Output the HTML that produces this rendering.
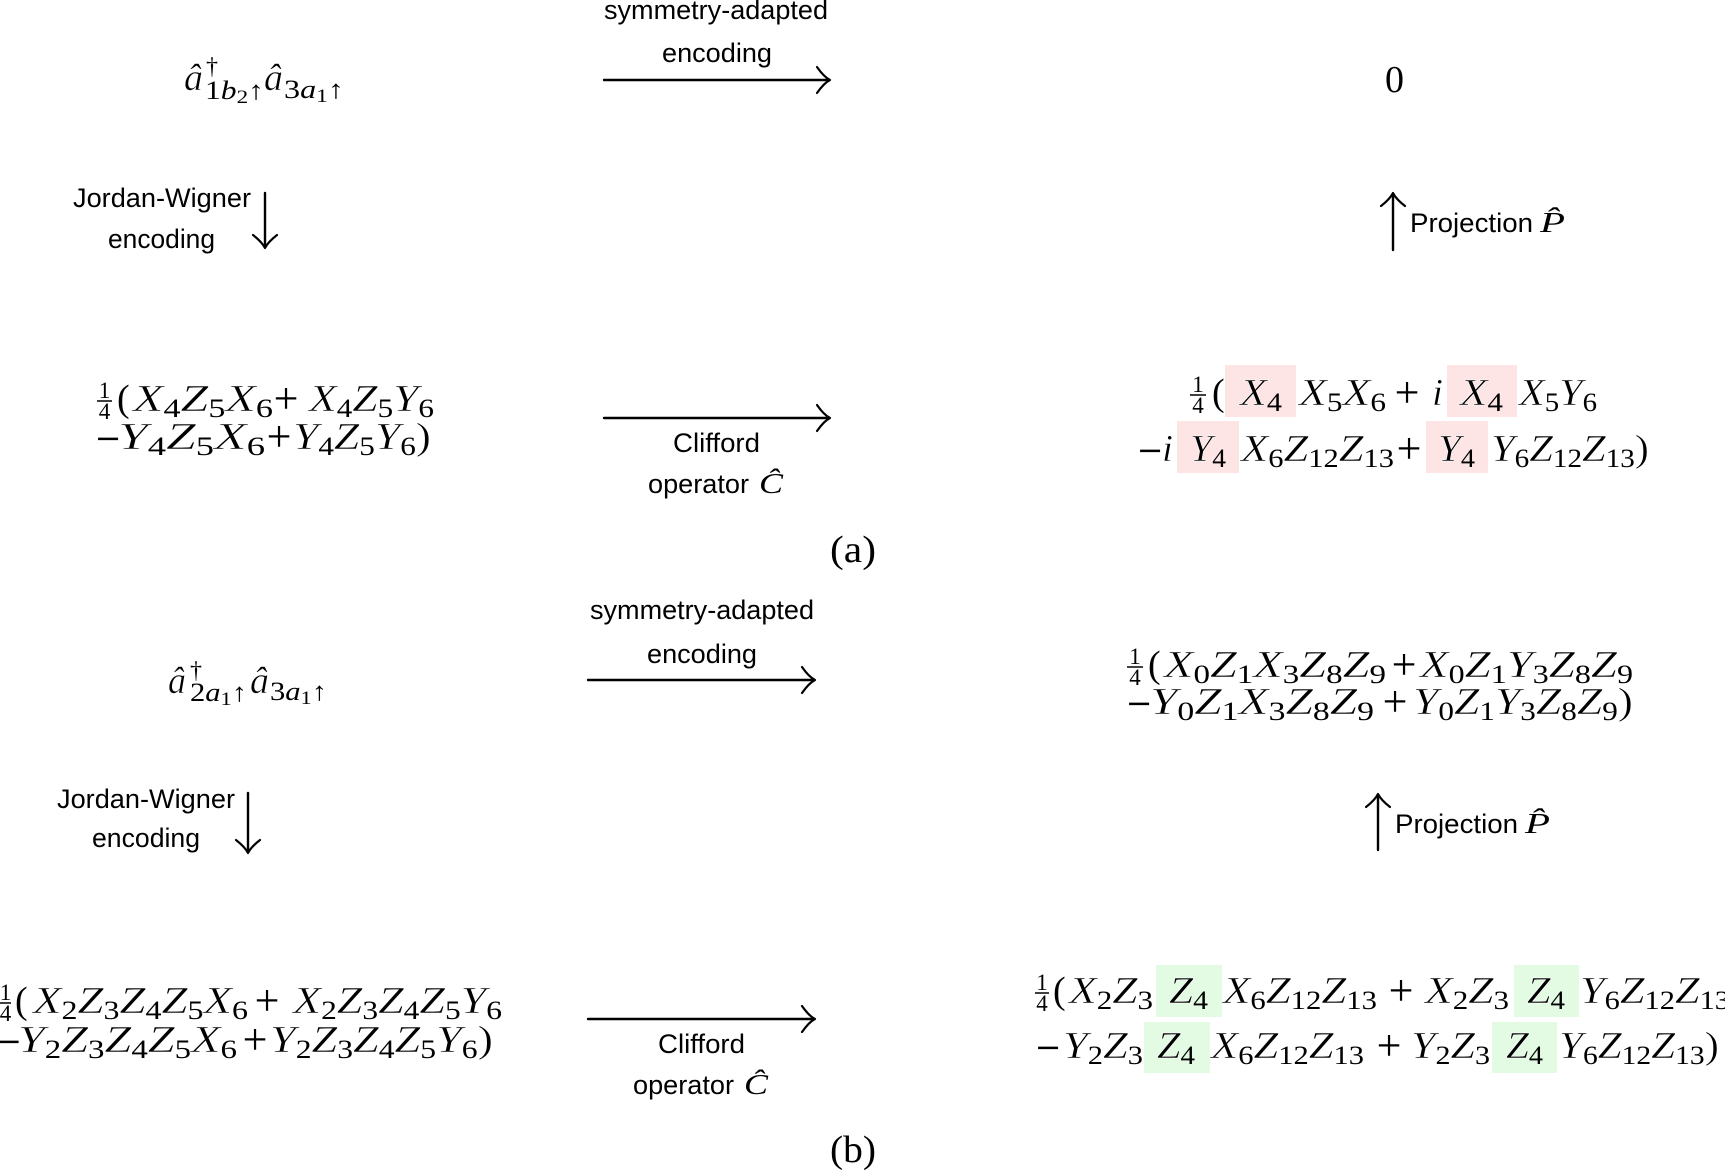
<!DOCTYPE html>
<html><head><meta charset="utf-8"><style>
html,body{margin:0;padding:0;background:#fff;}
svg{display:block;}
.m{font-family:"Liberation Serif",serif;font-style:italic;font-size:38px;fill:#000;stroke:#fff;stroke-width:0.5px;}
.r{font-family:"Liberation Serif",serif;font-style:normal;font-size:38px;fill:#000;}
.p{font-family:"Liberation Serif",serif;font-style:normal;font-size:44px;fill:#000;}
.n{font-family:"DejaVu Serif",serif;font-style:normal;font-size:32px;fill:#000;}
.s{font-size:26px;font-style:normal;stroke:none;}
.f{font-family:"Liberation Serif",serif;font-size:23px;fill:#000;}
.t{font-family:"Liberation Sans",sans-serif;font-size:27px;fill:#000;}
.mm{font-family:"Liberation Serif",serif;font-style:italic;font-size:29px;fill:#000;}
.ln{stroke:#000;stroke-width:2.4;fill:none;stroke-linecap:round;}
.hd{stroke:#000;stroke-width:2.2;fill:none;stroke-linecap:round;stroke-linejoin:round;}
.fb{stroke:#000;stroke-width:1.5;}
</style></head><body>
<svg width="1725" height="1174" viewBox="0 0 1725 1174" xmlns="http://www.w3.org/2000/svg">
<rect width="1725" height="1174" fill="#fff"/>

<!-- ===================== (a) ===================== -->
<text class="m" x="184" y="90" textLength="19" lengthAdjust="spacingAndGlyphs">â</text>
<text class="r" x="206" y="74" style="font-size:24px">†</text>
<text class="r" x="205" y="99" style="font-size:26px" textLength="59" lengthAdjust="spacingAndGlyphs">1<tspan font-style="italic">b</tspan><tspan style="font-size:19px" dy="4">2</tspan><tspan dy="-4">↑</tspan></text>
<text class="m" x="264" y="90" textLength="19" lengthAdjust="spacingAndGlyphs">â</text>
<text class="r" x="284" y="98" style="font-size:26px" textLength="60" lengthAdjust="spacingAndGlyphs">3<tspan font-style="italic">a</tspan><tspan style="font-size:19px" dy="4">1</tspan><tspan dy="-4">↑</tspan></text>

<text class="t" x="604" y="19" textLength="224" lengthAdjust="spacingAndGlyphs">symmetry-adapted</text>
<text class="t" x="662" y="62" textLength="110" lengthAdjust="spacingAndGlyphs">encoding</text>
<line class="ln" x1="604" y1="80" x2="828" y2="80"/>
<path class="hd" d="M817,67 Q824,77 830,80 Q824,83 817,93"/>

<text class="r" x="1385" y="92">0</text>

<text class="t" x="73" y="207" textLength="178" lengthAdjust="spacingAndGlyphs">Jordan-Wigner</text>
<text class="t" x="108" y="248" textLength="107" lengthAdjust="spacingAndGlyphs">encoding</text>
<line class="ln" x1="265" y1="193" x2="265" y2="246"/>
<path class="hd" d="M253,235 Q262,242 265,248 Q268,242 277,235"/>

<line class="ln" x1="1393" y1="250" x2="1393" y2="195"/>
<path class="hd" d="M1381,206 Q1390,199 1393,193 Q1396,199 1405,206"/>
<text class="t" x="1410" y="232" textLength="123" lengthAdjust="spacingAndGlyphs">Projection</text>
<text class="mm" x="1540" y="232" textLength="25" lengthAdjust="spacingAndGlyphs">P̂</text>

<!-- left expression (a) -->
<text class="f" x="104.5" y="398" text-anchor="middle">1</text>
<line class="fb" x1="97" y1="401" x2="112" y2="401"/>
<text class="f" x="104.5" y="419" text-anchor="middle">4</text>
<text class="r" x="117" y="411">(</text>
<text class="m" x="133" y="411" textLength="140" lengthAdjust="spacingAndGlyphs">X<tspan class="s" dy="6">4</tspan><tspan dy="-6">Z</tspan><tspan class="s" dy="6">5</tspan><tspan dy="-6">X</tspan><tspan class="s" dy="6">6</tspan></text>
<text class="p" x="286" y="413" text-anchor="middle">+</text>
<text class="m" x="309" y="411" textLength="125" lengthAdjust="spacingAndGlyphs">X<tspan class="s" dy="6">4</tspan><tspan dy="-6">Z</tspan><tspan class="s" dy="6">5</tspan><tspan dy="-6">Y</tspan><tspan class="s" dy="6">6</tspan></text>
<text class="n" x="108" y="449" text-anchor="middle">−</text>
<text class="m" x="118" y="449" textLength="147" lengthAdjust="spacingAndGlyphs">Y<tspan class="s" dy="6">4</tspan><tspan dy="-6">Z</tspan><tspan class="s" dy="6">5</tspan><tspan dy="-6">X</tspan><tspan class="s" dy="6">6</tspan></text>
<text class="p" x="279" y="451" text-anchor="middle">+</text>
<text class="m" x="293" y="449" textLength="138" lengthAdjust="spacingAndGlyphs">Y<tspan class="s" dy="6">4</tspan><tspan dy="-6">Z</tspan><tspan class="s" dy="6">5</tspan><tspan dy="-6">Y</tspan><tspan class="s" dy="6">6</tspan><tspan font-style="normal" dy="-6">)</tspan></text>

<!-- Clifford arrow (a) -->
<line class="ln" x1="604" y1="418" x2="828" y2="418"/>
<path class="hd" d="M817,405 Q824,415 830,418 Q824,421 817,431"/>
<text class="t" x="673" y="452" textLength="87" lengthAdjust="spacingAndGlyphs">Clifford</text>
<text class="t" x="648" y="493" textLength="101" lengthAdjust="spacingAndGlyphs">operator</text>
<text class="mm" x="759" y="493" textLength="24" lengthAdjust="spacingAndGlyphs">Ĉ</text>

<!-- right expression (a) -->
<rect x="1225" y="365" width="71" height="52" fill="#fde4e5"/>
<rect x="1447" y="365" width="70" height="52" fill="#fde4e5"/>
<rect x="1177" y="421" width="62" height="52" fill="#fde4e5"/>
<rect x="1426" y="421" width="62" height="52" fill="#fde4e5"/>
<text class="f" x="1198" y="392" text-anchor="middle">1</text>
<line class="fb" x1="1190" y1="395" x2="1206" y2="395"/>
<text class="f" x="1198" y="413" text-anchor="middle">4</text>
<text class="r" x="1212" y="405">(</text>
<text class="m" x="1240" y="405" textLength="42" lengthAdjust="spacingAndGlyphs">X<tspan class="s" dy="6">4</tspan></text>
<text class="m" x="1299" y="405" textLength="87" lengthAdjust="spacingAndGlyphs">X<tspan class="s" dy="6">5</tspan><tspan dy="-6">X</tspan><tspan class="s" dy="6">6</tspan></text>
<text class="p" x="1407" y="407" text-anchor="middle">+</text>
<text class="m" x="1432" y="405" textLength="11" lengthAdjust="spacingAndGlyphs">i</text>
<text class="m" x="1460" y="405" textLength="43" lengthAdjust="spacingAndGlyphs">X<tspan class="s" dy="6">4</tspan></text>
<text class="m" x="1519" y="405" textLength="78" lengthAdjust="spacingAndGlyphs">X<tspan class="s" dy="6">5</tspan><tspan dy="-6">Y</tspan><tspan class="s" dy="6">6</tspan></text>
<text class="n" x="1150" y="461" text-anchor="middle">−</text>
<text class="m" x="1162" y="461" textLength="11" lengthAdjust="spacingAndGlyphs">i</text>
<text class="m" x="1190" y="461" textLength="36" lengthAdjust="spacingAndGlyphs">Y<tspan class="s" dy="6">4</tspan></text>
<text class="m" x="1241" y="461" textLength="153" lengthAdjust="spacingAndGlyphs">X<tspan class="s" dy="6">6</tspan><tspan dy="-6">Z</tspan><tspan class="s" dy="6">12</tspan><tspan dy="-6">Z</tspan><tspan class="s" dy="6">13</tspan></text>
<text class="p" x="1409" y="463" text-anchor="middle">+</text>
<text class="m" x="1438" y="461" textLength="37" lengthAdjust="spacingAndGlyphs">Y<tspan class="s" dy="6">4</tspan></text>
<text class="m" x="1491" y="461" textLength="158" lengthAdjust="spacingAndGlyphs">Y<tspan class="s" dy="6">6</tspan><tspan dy="-6">Z</tspan><tspan class="s" dy="6">12</tspan><tspan dy="-6">Z</tspan><tspan class="s" dy="6">13</tspan><tspan font-style="normal" dy="-6">)</tspan></text>

<text class="r" x="830" y="562" textLength="46" lengthAdjust="spacingAndGlyphs">(a)</text>

<!-- ===================== (b) ===================== -->
<text class="m" x="168" y="693" textLength="18" lengthAdjust="spacingAndGlyphs">â</text>
<text class="r" x="190" y="678" style="font-size:24px">†</text>
<text class="r" x="190" y="701" style="font-size:26px" textLength="57" lengthAdjust="spacingAndGlyphs">2<tspan font-style="italic">a</tspan><tspan style="font-size:19px" dy="4">1</tspan><tspan dy="-4">↑</tspan></text>
<text class="m" x="250" y="693" textLength="19" lengthAdjust="spacingAndGlyphs">â</text>
<text class="r" x="270" y="700" style="font-size:26px" textLength="57" lengthAdjust="spacingAndGlyphs">3<tspan font-style="italic">a</tspan><tspan style="font-size:19px" dy="4">1</tspan><tspan dy="-4">↑</tspan></text>

<text class="t" x="590" y="619" textLength="224" lengthAdjust="spacingAndGlyphs">symmetry-adapted</text>
<text class="t" x="647" y="663" textLength="110" lengthAdjust="spacingAndGlyphs">encoding</text>
<line class="ln" x1="588" y1="680" x2="813" y2="680"/>
<path class="hd" d="M802,667 Q809,677 815,680 Q809,683 802,693"/>

<!-- right top expression (b) -->
<text class="f" x="1135" y="664" text-anchor="middle">1</text>
<line class="fb" x1="1127" y1="667" x2="1143" y2="667"/>
<text class="f" x="1135" y="685" text-anchor="middle">4</text>
<text class="r" x="1148" y="677">(</text>
<text class="m" x="1164" y="677" textLength="222" lengthAdjust="spacingAndGlyphs">X<tspan class="s" dy="6">0</tspan><tspan dy="-6">Z</tspan><tspan class="s" dy="6">1</tspan><tspan dy="-6">X</tspan><tspan class="s" dy="6">3</tspan><tspan dy="-6">Z</tspan><tspan class="s" dy="6">8</tspan><tspan dy="-6">Z</tspan><tspan class="s" dy="6">9</tspan></text>
<text class="p" x="1404" y="679" text-anchor="middle">+</text>
<text class="m" x="1420" y="677" textLength="213" lengthAdjust="spacingAndGlyphs">X<tspan class="s" dy="6">0</tspan><tspan dy="-6">Z</tspan><tspan class="s" dy="6">1</tspan><tspan dy="-6">Y</tspan><tspan class="s" dy="6">3</tspan><tspan dy="-6">Z</tspan><tspan class="s" dy="6">8</tspan><tspan dy="-6">Z</tspan><tspan class="s" dy="6">9</tspan></text>
<text class="n" x="1139" y="714" text-anchor="middle">−</text>
<text class="m" x="1150" y="714" textLength="224" lengthAdjust="spacingAndGlyphs">Y<tspan class="s" dy="6">0</tspan><tspan dy="-6">Z</tspan><tspan class="s" dy="6">1</tspan><tspan dy="-6">X</tspan><tspan class="s" dy="6">3</tspan><tspan dy="-6">Z</tspan><tspan class="s" dy="6">8</tspan><tspan dy="-6">Z</tspan><tspan class="s" dy="6">9</tspan></text>
<text class="p" x="1395" y="716" text-anchor="middle">+</text>
<text class="m" x="1413" y="714" textLength="220" lengthAdjust="spacingAndGlyphs">Y<tspan class="s" dy="6">0</tspan><tspan dy="-6">Z</tspan><tspan class="s" dy="6">1</tspan><tspan dy="-6">Y</tspan><tspan class="s" dy="6">3</tspan><tspan dy="-6">Z</tspan><tspan class="s" dy="6">8</tspan><tspan dy="-6">Z</tspan><tspan class="s" dy="6">9</tspan><tspan font-style="normal" dy="-6">)</tspan></text>

<text class="t" x="57" y="808" textLength="178" lengthAdjust="spacingAndGlyphs">Jordan-Wigner</text>
<text class="t" x="92" y="847" textLength="108" lengthAdjust="spacingAndGlyphs">encoding</text>
<line class="ln" x1="248" y1="793" x2="248" y2="851"/>
<path class="hd" d="M236,840 Q245,847 248,853 Q251,847 260,840"/>

<line class="ln" x1="1378" y1="850" x2="1378" y2="796"/>
<path class="hd" d="M1366,807 Q1375,800 1378,794 Q1381,800 1390,807"/>
<text class="t" x="1395" y="833" textLength="123" lengthAdjust="spacingAndGlyphs">Projection</text>
<text class="mm" x="1525" y="833" textLength="25" lengthAdjust="spacingAndGlyphs">P̂</text>

<!-- left expression (b) -->
<text class="f" x="5.5" y="1000" text-anchor="middle">1</text>
<line class="fb" x1="0" y1="1003" x2="11" y2="1003"/>
<text class="f" x="5.5" y="1021" text-anchor="middle">4</text>
<text class="r" x="15" y="1013">(</text>
<text class="m" x="33" y="1013" textLength="215" lengthAdjust="spacingAndGlyphs">X<tspan class="s" dy="6">2</tspan><tspan dy="-6">Z</tspan><tspan class="s" dy="6">3</tspan><tspan dy="-6">Z</tspan><tspan class="s" dy="6">4</tspan><tspan dy="-6">Z</tspan><tspan class="s" dy="6">5</tspan><tspan dy="-6">X</tspan><tspan class="s" dy="6">6</tspan></text>
<text class="p" x="267" y="1015" text-anchor="middle">+</text>
<text class="m" x="293" y="1013" textLength="209" lengthAdjust="spacingAndGlyphs">X<tspan class="s" dy="6">2</tspan><tspan dy="-6">Z</tspan><tspan class="s" dy="6">3</tspan><tspan dy="-6">Z</tspan><tspan class="s" dy="6">4</tspan><tspan dy="-6">Z</tspan><tspan class="s" dy="6">5</tspan><tspan dy="-6">Y</tspan><tspan class="s" dy="6">6</tspan></text>
<text class="n" x="8.5" y="1052" text-anchor="middle">−</text>
<text class="m" x="18" y="1052" textLength="219" lengthAdjust="spacingAndGlyphs">Y<tspan class="s" dy="6">2</tspan><tspan dy="-6">Z</tspan><tspan class="s" dy="6">3</tspan><tspan dy="-6">Z</tspan><tspan class="s" dy="6">4</tspan><tspan dy="-6">Z</tspan><tspan class="s" dy="6">5</tspan><tspan dy="-6">X</tspan><tspan class="s" dy="6">6</tspan></text>
<text class="p" x="255" y="1054" text-anchor="middle">+</text>
<text class="m" x="270" y="1052" textLength="223" lengthAdjust="spacingAndGlyphs">Y<tspan class="s" dy="6">2</tspan><tspan dy="-6">Z</tspan><tspan class="s" dy="6">3</tspan><tspan dy="-6">Z</tspan><tspan class="s" dy="6">4</tspan><tspan dy="-6">Z</tspan><tspan class="s" dy="6">5</tspan><tspan dy="-6">Y</tspan><tspan class="s" dy="6">6</tspan><tspan font-style="normal" dy="-6">)</tspan></text>

<line class="ln" x1="588" y1="1019" x2="813" y2="1019"/>
<path class="hd" d="M802,1006 Q809,1016 815,1019 Q809,1022 802,1032"/>
<text class="t" x="658" y="1053" textLength="87" lengthAdjust="spacingAndGlyphs">Clifford</text>
<text class="t" x="633" y="1094" textLength="101" lengthAdjust="spacingAndGlyphs">operator</text>
<text class="mm" x="744" y="1094" textLength="24" lengthAdjust="spacingAndGlyphs">Ĉ</text>

<!-- right bottom expression (b) -->
<rect x="1156" y="965" width="66" height="52" fill="#e3fbe3"/>
<rect x="1514" y="965" width="65" height="52" fill="#e3fbe3"/>
<rect x="1144" y="1022" width="66" height="51" fill="#e3fbe3"/>
<rect x="1492" y="1022" width="65" height="51" fill="#e3fbe3"/>
<text class="f" x="1042" y="990" text-anchor="middle">1</text>
<line class="fb" x1="1035" y1="993" x2="1049" y2="993"/>
<text class="f" x="1042" y="1011" text-anchor="middle">4</text>
<text class="r" x="1053" y="1003">(</text>
<text class="m" x="1069" y="1003" textLength="84" lengthAdjust="spacingAndGlyphs">X<tspan class="s" dy="6">2</tspan><tspan dy="-6">Z</tspan><tspan class="s" dy="6">3</tspan></text>
<text class="m" x="1169" y="1003" textLength="39" lengthAdjust="spacingAndGlyphs">Z<tspan class="s" dy="6">4</tspan></text>
<text class="m" x="1223" y="1003" textLength="154" lengthAdjust="spacingAndGlyphs">X<tspan class="s" dy="6">6</tspan><tspan dy="-6">Z</tspan><tspan class="s" dy="6">12</tspan><tspan dy="-6">Z</tspan><tspan class="s" dy="6">13</tspan></text>
<text class="p" x="1401" y="1005" text-anchor="middle">+</text>
<text class="m" x="1425" y="1003" textLength="84" lengthAdjust="spacingAndGlyphs">X<tspan class="s" dy="6">2</tspan><tspan dy="-6">Z</tspan><tspan class="s" dy="6">3</tspan></text>
<text class="m" x="1527" y="1003" textLength="38" lengthAdjust="spacingAndGlyphs">Z<tspan class="s" dy="6">4</tspan></text>
<text class="m" x="1580" y="1003" textLength="150" lengthAdjust="spacingAndGlyphs">Y<tspan class="s" dy="6">6</tspan><tspan dy="-6">Z</tspan><tspan class="s" dy="6">12</tspan><tspan dy="-6">Z</tspan><tspan class="s" dy="6">13</tspan></text>
<text class="n" x="1048" y="1058" text-anchor="middle">−</text>
<text class="m" x="1063" y="1058" textLength="80" lengthAdjust="spacingAndGlyphs">Y<tspan class="s" dy="6">2</tspan><tspan dy="-6">Z</tspan><tspan class="s" dy="6">3</tspan></text>
<text class="m" x="1157" y="1058" textLength="38" lengthAdjust="spacingAndGlyphs">Z<tspan class="s" dy="6">4</tspan></text>
<text class="m" x="1211" y="1058" textLength="153" lengthAdjust="spacingAndGlyphs">X<tspan class="s" dy="6">6</tspan><tspan dy="-6">Z</tspan><tspan class="s" dy="6">12</tspan><tspan dy="-6">Z</tspan><tspan class="s" dy="6">13</tspan></text>
<text class="p" x="1389" y="1060" text-anchor="middle">+</text>
<text class="m" x="1411" y="1058" textLength="79" lengthAdjust="spacingAndGlyphs">Y<tspan class="s" dy="6">2</tspan><tspan dy="-6">Z</tspan><tspan class="s" dy="6">3</tspan></text>
<text class="m" x="1506" y="1058" textLength="37" lengthAdjust="spacingAndGlyphs">Z<tspan class="s" dy="6">4</tspan></text>
<text class="m" x="1559" y="1058" textLength="160" lengthAdjust="spacingAndGlyphs">Y<tspan class="s" dy="6">6</tspan><tspan dy="-6">Z</tspan><tspan class="s" dy="6">12</tspan><tspan dy="-6">Z</tspan><tspan class="s" dy="6">13</tspan><tspan font-style="normal" dy="-6">)</tspan></text>

<text class="r" x="830" y="1162" textLength="46" lengthAdjust="spacingAndGlyphs">(b)</text>
</svg>
</body></html>
